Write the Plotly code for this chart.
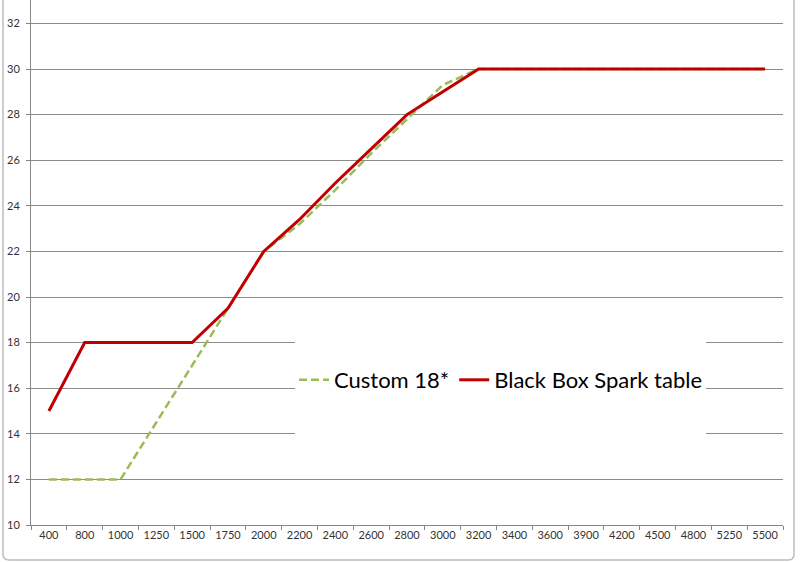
import plotly.graph_objects as go

# rpm categories (x axis is categorical, Excel style)
rpm = ['400', '800', '1000', '1250', '1500', '1750', '2000', '2200', '2400', '2600', '2800',
       '3000', '3200', '3400', '3600', '3900', '4200', '4500', '4800', '5250', '5500']

custom_18 = [12, 12, 12, 14.5, 17, 19.5, 22, 23.2, 24.7, 26.3, 27.8,
             29.3, 30, 30, 30, 30, 30, 30, 30, 30, 30]
black_box = [15, 18, 18, 18, 18, 19.5, 22, 23.4, 25, 26.5, 28,
             29, 30, 30, 30, 30, 30, 30, 30, 30, 30]

y_ticks = list(range(10, 33, 2))

W, H = 800, 562
L, R, T, B = 31, 17, 0, 37


def px(x, y):
    # pixel -> paper coords (decoration only)
    return (x - L) / (W - L - R), (H - B - y) / (H - T - B)


fig = go.Figure()
fig.add_trace(go.Scatter(x=rpm, y=custom_18, name='Custom 18*', mode='lines',
                         line=dict(color='#9BBB59', width=2.5, dash='8px,4px')))
fig.add_trace(go.Scatter(x=rpm, y=black_box, name='Black Box Spark table', mode='lines',
                         line=dict(color='#C00000', width=3)))

# white patch behind the legend (Excel legend box hides the gridlines)
x0, y0 = px(295, 341)
x1, y1 = px(706, 437)
fig.add_shape(type='rect', xref='paper', yref='paper', x0=x0, y0=y0, x1=x1, y1=y1,
              fillcolor='white', line=dict(width=0), layer='above')

# chart area border with rounded bottom corners
bx0, by_top = px(3, -5)
bx1, by_bot = px(794, 560)
cx, cy = px(9, 554)
cx2, _ = px(788, 554)
fig.add_shape(type='path', xref='paper', yref='paper',
              path=(f'M {bx0},{by_top} L {bx0},{cy} Q {bx0},{by_bot} {cx},{by_bot} '
                    f'L {cx2},{by_bot} Q {bx1},{by_bot} {bx1},{cy} L {bx1},{by_top}'),
              line=dict(color='#BDBDBD', width=1.5), layer='above')

fig.update_xaxes(type='category', range=[-0.5, len(rpm) - 0.5], automargin=False,
                 showgrid=False, showline=True, linecolor='#868686', linewidth=1,
                 ticks='outside', tickson='boundaries', ticklen=4, tickcolor='#868686',
                 tickfont=dict(family='Lato', size=11, color='#333333'))
fig.update_yaxes(range=[10, 10 + (H - B - T) / 22.8], tickvals=y_ticks, automargin=False,
                 showgrid=True, gridcolor='#8C8C8C', gridwidth=1,
                 showline=True, linecolor='#868686', linewidth=1, zeroline=False,
                 ticks='outside', ticklen=4, tickcolor='#868686', ticklabelstandoff=4,
                 tickfont=dict(family='Lato', size=11, color='#333333'))

lx, ly = px(294, 380)
fig.update_layout(
    width=W, height=H,
    margin=dict(l=L, r=R, t=T, b=B),
    paper_bgcolor='white', plot_bgcolor='white',
    legend=dict(orientation='h', x=lx, y=ly, xanchor='left',
                yanchor='middle', bgcolor='rgba(0,0,0,0)', itemwidth=30,
                font=dict(family='Lato', size=22, color='black')),
    showlegend=True,
)

# drop the default page margin so the figure sits at the window corner
fig.write_html('out.html', config={'displayModeBar': False},
               post_script="document.body.style.margin='0';")
